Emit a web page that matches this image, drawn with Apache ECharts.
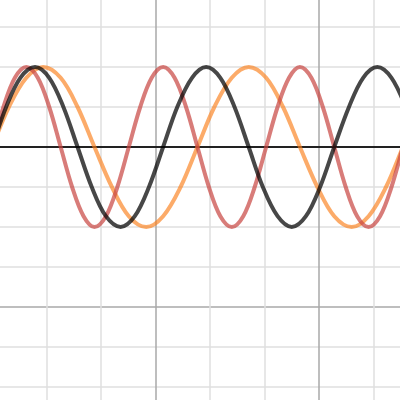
<!DOCTYPE html>
<html>
<head>
<meta charset="utf-8">
<script src="https://cdn.jsdelivr.net/npm/echarts@6/dist/echarts.min.js"></script>
<style>
  html, body { margin: 0; padding: 0; background: #fff; overflow: hidden; width: 400px; height: 400px; }
  /* 图比窗口略大, 让 y 轴落在左边框外 */
  #chart { position: absolute; left: -8px; top: -13px; width: 436px; height: 440px; }
</style>
</head>
<body>
<div id="chart"></div>
<script>
// 曲线采样点
var blackX = [-0.26, 0, 0.26, 0.52, 0.79, 1.05, 1.31, 1.57, 1.83, 2.09, 2.36, 2.62, 2.88, 3.14, 3.40, 3.67, 3.93, 4.19, 4.45, 4.71, 4.97, 5.24, 5.50, 5.76, 6.02, 6.28, 6.55, 6.81, 7.07, 7.33, 7.59, 7.85];
var blackY = [-1, 0, 1, 1.73, 2, 1.73, 1, 0, -1, -1.73, -2, -1.73, -1, 0, 1, 1.73, 2, 1.73, 1, 0, -1, -1.73, -2, -1.73, -1, 0, 1, 1.73, 2, 1.73, 1, 0];

var redX = [-0.21, 0, 0.21, 0.42, 0.63, 0.84, 1.05, 1.26, 1.47, 1.68, 1.88, 2.09, 2.30, 2.51, 2.72, 2.93, 3.14, 3.35, 3.56, 3.77, 3.98, 4.19, 4.40, 4.61, 4.82, 5.03, 5.24, 5.45, 5.65, 5.86, 6.07, 6.28, 6.49, 6.70, 6.91, 7.12, 7.33, 7.54, 7.75, 7.96];
var redY = [-1, 0, 1, 1.73, 2, 1.73, 1, 0, -1, -1.73, -2, -1.73, -1, 0, 1, 1.73, 2, 1.73, 1, 0, -1, -1.73, -2, -1.73, -1, 0, 1, 1.73, 2, 1.73, 1, 0, -1, -1.73, -2, -1.73, -1, 0, 1, 1.73];

var orangeX = [-0.31, 0, 0.31, 0.63, 0.94, 1.26, 1.57, 1.88, 2.20, 2.51, 2.83, 3.14, 3.46, 3.77, 4.08, 4.40, 4.71, 5.03, 5.34, 5.65, 5.97, 6.28, 6.60, 6.91, 7.23, 7.54, 7.85];
var orangeY = [-1, 0, 1, 1.73, 2, 1.73, 1, 0, -1, -1.73, -2, -1.73, -1, 0, 1, 1.73, 2, 1.73, 1, 0, -1, -1.73, -2, -1.73, -1, 0, 1];

function pairs(xs, ys) {
  var out = [];
  for (var i = 0; i < xs.length; i++) {
    out.push([xs[i], ys[i]]);
  }
  return out;
}

var minorColor = '#dfdfdf';
var majorColor = '#a9a9a9';

var chart = echarts.init(document.getElementById('chart'), null, { renderer: 'canvas' });
var option = {
  backgroundColor: '#ffffff',
  animation: false,
  grid: {
    left: 0,
    right: 0,
    top: 0,
    bottom: 0
  },
  xAxis: {
    type: 'value',
    min: 0,
    max: 8,
    interval: 1,
    axisLabel: { show: false },
    axisTick: { show: false },
    axisLine: {
      show: true,
      onZero: true,
      lineStyle: { color: '#222', width: 2 }
    },
    splitLine: {
      show: true,
      lineStyle: { color: [majorColor, minorColor, minorColor], width: 1.5 }
    }
  },
  yAxis: {
    type: 'value',
    min: -7,
    max: 4,
    interval: 1,
    axisLabel: { show: false },
    axisTick: { show: false },
    axisLine: { show: false },
    splitLine: {
      show: true,
      lineStyle: { color: [minorColor, minorColor, minorColor, majorColor], width: 1.5 }
    }
  },
  series: [
    {
      name: 'orange',
      type: 'line',
      smooth: 0.35,
      showSymbol: false,
      z: 2,
      data: pairs(orangeX, orangeY),
      lineStyle: { color: '#fa7e19', width: 4, opacity: 0.65 }
    },
    {
      name: 'red',
      type: 'line',
      smooth: 0.35,
      showSymbol: false,
      z: 3,
      data: pairs(redX, redY),
      lineStyle: { color: '#c74440', width: 4, opacity: 0.7 }
    },
    {
      name: 'black',
      type: 'line',
      smooth: 0.35,
      showSymbol: false,
      z: 4,
      data: pairs(blackX, blackY),
      lineStyle: { color: '#000000', width: 4, opacity: 0.72 }
    }
  ]
};
chart.setOption(option);
</script>
</body>
</html>
